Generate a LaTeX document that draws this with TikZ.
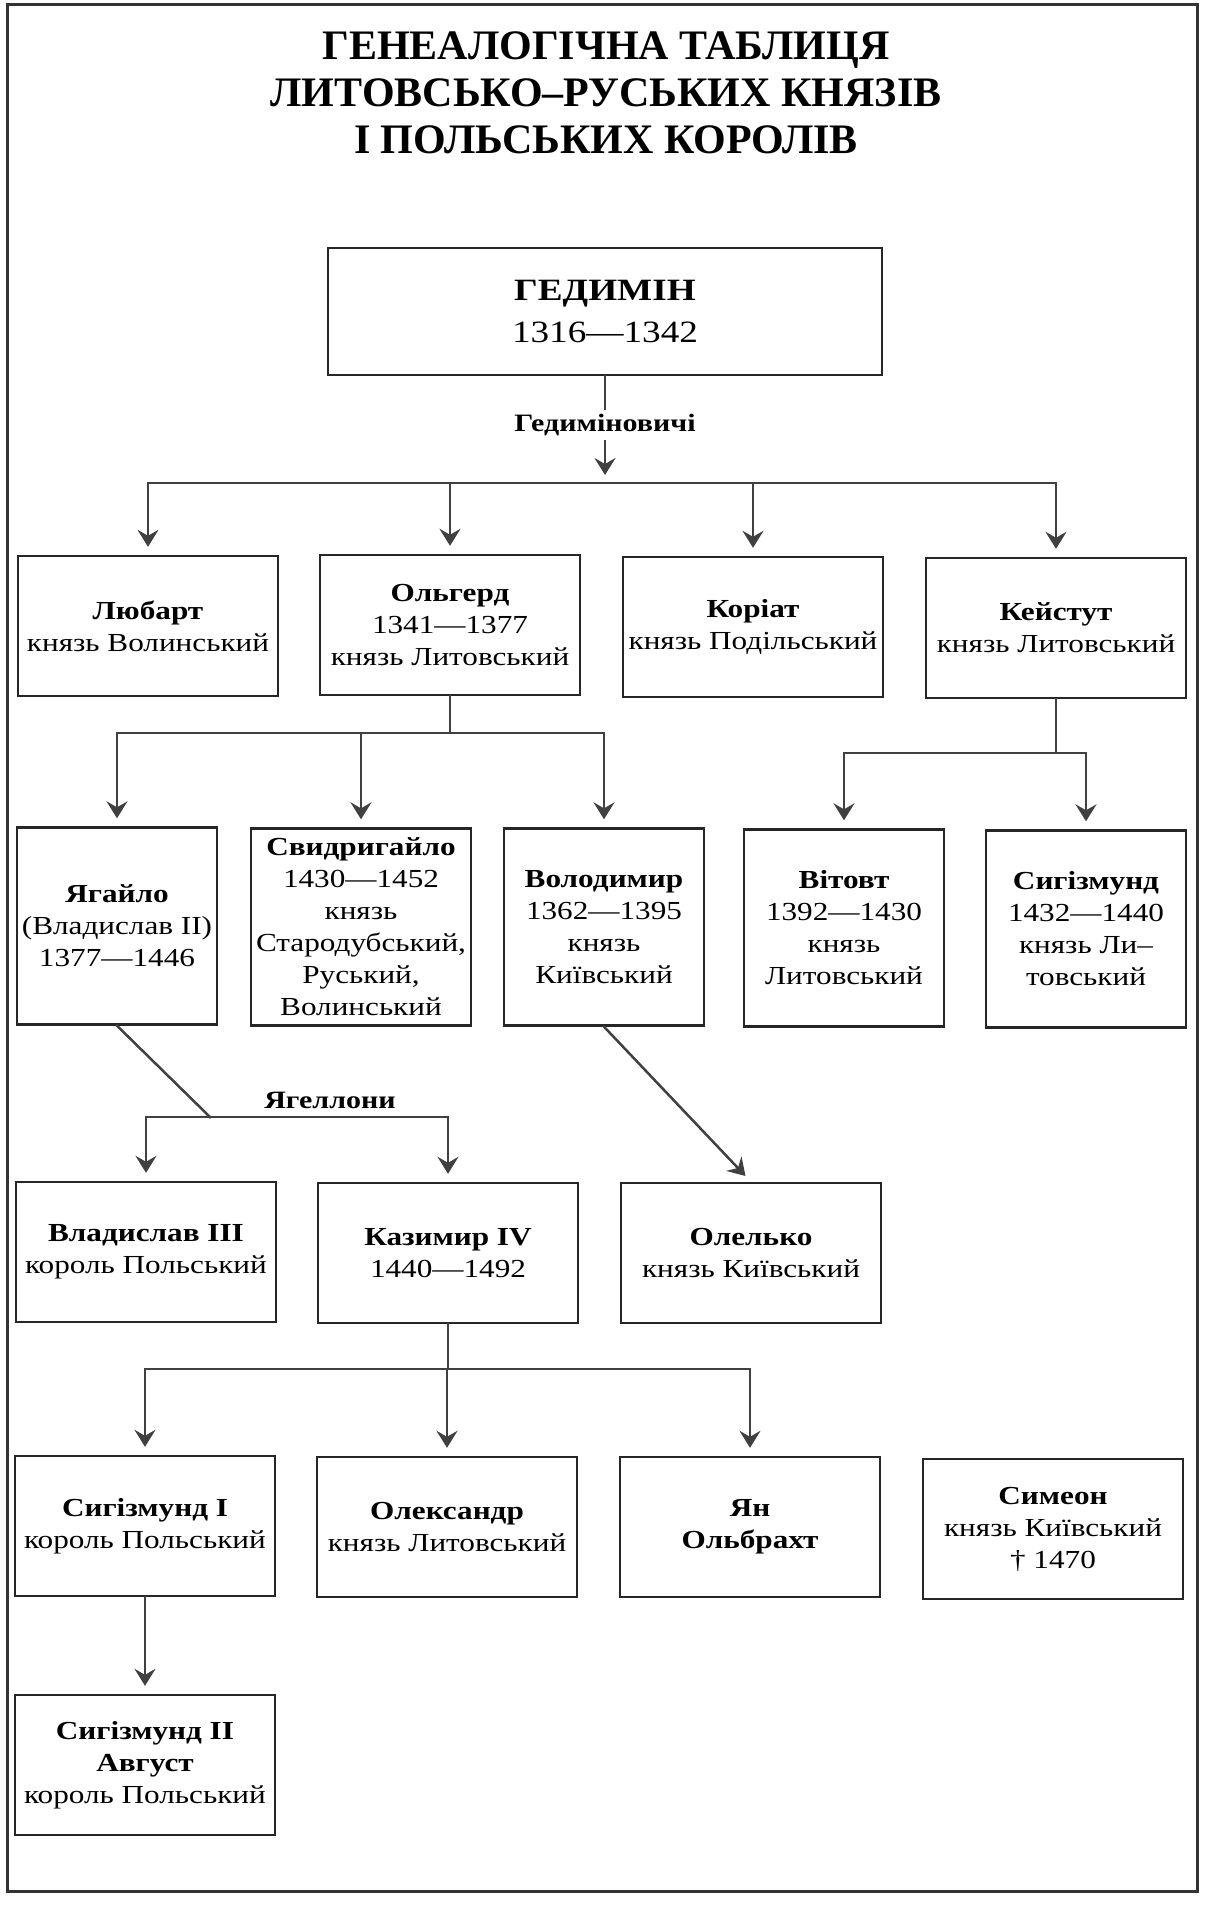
\documentclass[tikz,border=0pt]{standalone}
\usepackage{fontspec}
\setmainfont{Liberation Serif}[FakeStretch=1.2]
\newfontfamily\titlefont{Liberation Serif}
\usetikzlibrary{arrows.meta}

\begin{document}
\begin{tikzpicture}[x=0.5pt, y=-0.5pt,
  box/.style = {draw=black!85, line width=1.2pt, inner sep=0pt, align=center, font=\fontsize{13}{16}\selectfont},
  wbox/.style = {box, minimum width=130pt, minimum height=70pt},
  tbox/.style = {box, minimum width=100pt, minimum height=98.5pt},
  link/.style = {draw=black!75, line width=1.25pt, line cap=rect},
  arr/.style = {link, -{Stealth[length=8.5pt, width=10.5pt, inset=3pt]}, shorten >=4pt},
  lbl/.style = {font=\bfseries\fontsize{12.5}{15}\selectfont, inner sep=2pt}]
	\useasboundingbox (0,0) rectangle (1208,1916);
	\draw[black!80, line width=1.5pt] (7,5) rectangle (1197,1891);

	\node (title) [align=center, font=\titlefont\bfseries\fontsize{21}{23.5}\selectfont] at (606,93) {ГЕНЕАЛОГІЧНА ТАБЛИЦЯ\\ЛИТОВСЬКО–РУСЬКИХ КНЯЗІВ\\І ПОЛЬСЬКИХ КОРОЛІВ};

	\node[box, minimum width=277pt, minimum height=63.5pt, font=\fontsize{15.5}{21}\selectfont] (ged) at (605,311.5) {\textbf{ГЕДИМІН}\\1316—1342};

	\node[wbox] (lub) at (148,626) {\textbf{Любарт}\\князь Волинський};
	\node[wbox] (olg) at (450,625) {\textbf{Ольгерд}\\1341—1377\\князь Литовський};
	\node[wbox] (kor) at (753,627) {\textbf{Коріат}\\князь Подільський};
	\node[wbox] (kei) at (1056,628) {\textbf{Кейстут}\\князь Литовський};

	\node[tbox] (jag) at (117,926) {\textbf{Ягайло}\\(Владислав II)\\1377—1446};
	\node[tbox, minimum width=110pt] (svy) at (361,927) {\textbf{Свидригайло}\\1430—1452\\князь\\Стародубський,\\Руський,\\Волинський};
	\node[tbox] (vol) at (604,927) {\textbf{Володимир}\\1362—1395\\князь\\Київський};
	\node[tbox] (vit) at (844,928) {\textbf{Вітовт}\\1392—1430\\князь\\Литовський};
	\node[tbox] (syg) at (1086,929) {\textbf{Сигізмунд}\\1432—1440\\князь Ли–\\товський};

	\node[wbox] (vla) at (146,1252) {\textbf{Владислав III}\\король Польський};
	\node[wbox] (kaz) at (448,1253) {\textbf{Казимир IV}\\1440—1492};
	\node[wbox] (ole) at (751,1253) {\textbf{Олелько}\\князь Київський};

	\node[wbox] (sg1) at (145,1526) {\textbf{Сигізмунд I}\\король Польський};
	\node[wbox] (olk) at (447,1527) {\textbf{Олександр}\\князь Литовський};
	\node[wbox] (yan) at (750,1527) {\textbf{Ян}\\\textbf{Ольбрахт}};
	\node[wbox] (sim) at (1053,1529) {\textbf{Симеон}\\князь Київський\\† 1470};

	\node[wbox] (sg2) at (145,1765) {\textbf{Сигізмунд II}\\\textbf{Август}\\король Польський};

	\coordinate (gbus) at (605,483);
	\draw[arr] (ged) -- node[lbl, fill=white, pos=0.46] {Гедиміновичі} (ged.south |- gbus);
	\draw[link] (lub.north |- gbus) -- (kei.north |- gbus);
	\draw[arr] (lub.north |- gbus) -- (lub);
	\draw[arr] (olg.north |- gbus) -- (olg);
	\draw[arr] (kor.north |- gbus) -- (kor);
	\draw[arr] (kei.north |- gbus) -- (kei);

	\coordinate (obus) at (450,733);
	\draw[link] (olg) -- (olg.south |- obus);
	\draw[link] (jag.north |- obus) -- (vol.north |- obus);
	\draw[arr] (jag.north |- obus) -- (jag);
	\draw[arr] (svy.north |- obus) -- (svy);
	\draw[arr] (vol.north |- obus) -- (vol);

	\coordinate (kbus) at (1056,753);
	\draw[link] (kei) -- (kei.south |- kbus);
	\draw[link] (vit.north |- kbus) -- (syg.north |- kbus);
	\draw[arr] (vit.north |- kbus) -- (vit);
	\draw[arr] (syg.north |- kbus) -- (syg);

	\coordinate (jbus) at (210,1117);
	\draw[link] (jag.south) -- (jbus);
	\draw[link] (vla.north |- jbus) -- (kaz.north |- jbus);
	\node[lbl, anchor=south] (jagl) at (330,1113) {Ягеллони};
	\draw[arr] (vla.north |- jbus) -- (vla);
	\draw[arr] (kaz.north |- jbus) -- (kaz);

	\draw[arr] (vol.south) -- (ole.north);

	\coordinate (zbus) at (448,1369);
	\draw[link] (kaz) -- (zbus);
	\draw[link] (sg1.north |- zbus) -- (yan.north |- zbus);
	\draw[arr] (sg1.north |- zbus) -- (sg1);
	\draw[arr] (olk.north |- zbus) -- (olk);
	\draw[arr] (yan.north |- zbus) -- (yan);

	\draw[arr] (sg1) -- (sg2);
\end{tikzpicture}
\end{document}
